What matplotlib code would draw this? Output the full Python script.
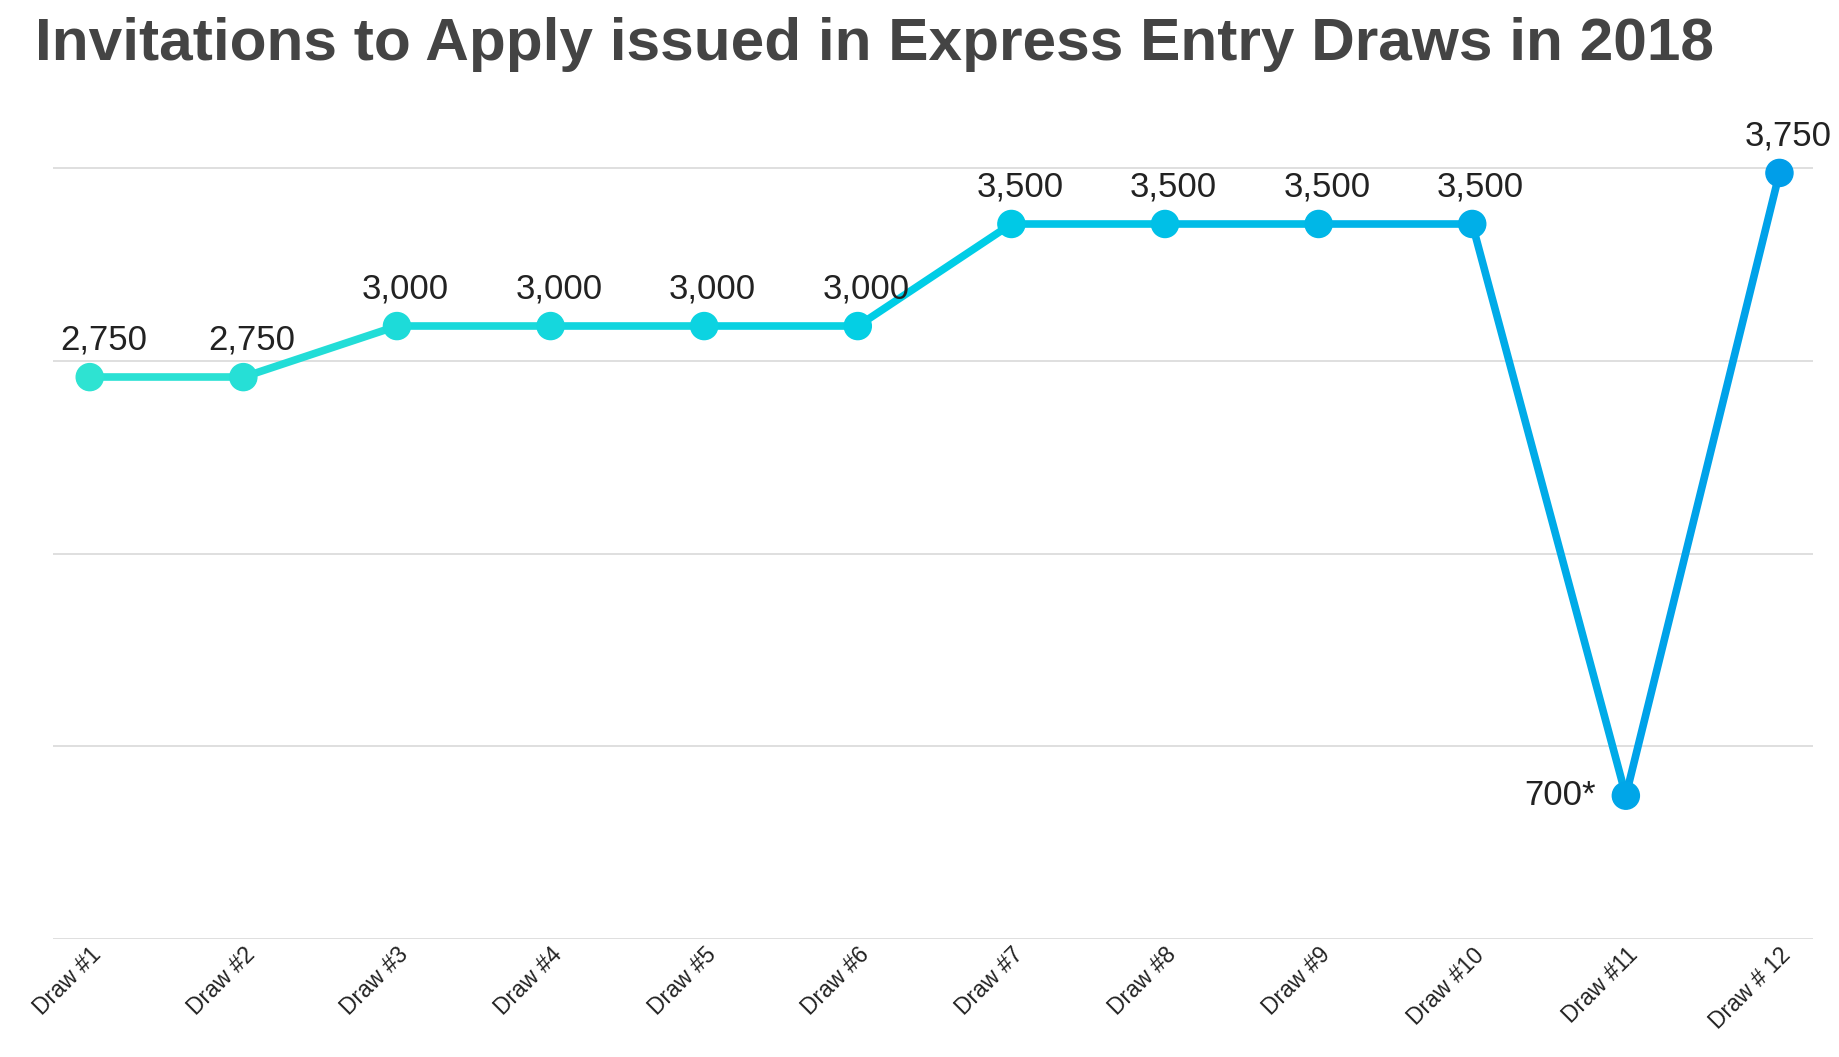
import matplotlib

matplotlib.use("Agg")
import matplotlib.pyplot as plt
import numpy as np
from matplotlib.collections import LineCollection
from matplotlib.colors import LinearSegmentedColormap

DRAWS = ["Draw #1", "Draw #2", "Draw #3", "Draw #4", "Draw #5", "Draw #6",
         "Draw #7", "Draw #8", "Draw #9", "Draw #10", "Draw #11", "Draw # 12"]
INVITES = [2750, 2750, 3000, 3000, 3000, 3000, 3500, 3500, 3500, 3500, 700, 3750]
LABELS = ["2,750", "2,750", "3,000", "3,000", "3,000", "3,000",
          "3,500", "3,500", "3,500", "3,500", "700*", "3,750"]

plt.rcParams["font.family"] = ["Liberation Sans", "DejaVu Sans"]

cmap = LinearSegmentedColormap.from_list("tb", ["#2ee3d2", "#00cde6", "#009ee9"])

fig = plt.figure(figsize=(18.39, 10.57), dpi=100)
ax = fig.add_axes([0.029, 0.112, 0.957, 0.792])

x = np.arange(len(INVITES))
y = np.array(INVITES)
n = len(x)
pts = np.column_stack([x, y]).reshape(-1, 1, 2)
segs = np.concatenate([pts[:-1], pts[1:]], axis=1)
lc = LineCollection(segs, colors=[cmap((i + 0.5) / (n - 1)) for i in range(n - 1)],
                    linewidths=5.5, capstyle="round", zorder=2)
ax.add_collection(lc)
ax.scatter(x, y, s=380, c=[cmap(i / (n - 1)) for i in range(n)], zorder=3)

for i, (xi, yi, lab) in enumerate(zip(x, y, LABELS)):
    if lab == "700*":
        ax.annotate(lab, (xi, yi), xytext=(-22, 0), textcoords="offset points",
                    ha="right", va="center", fontsize=25, color="#222222")
    else:
        ax.annotate(lab, (xi, yi), xytext=(10 if i == 0 else 6, 15),
                    textcoords="offset points", ha="center", va="bottom",
                    fontsize=25, color="#222222")

ax.set_xlim(-0.237, 11.22)
ax.set_ylim(0, 4100)
ax.set_yticks([0, 943, 1886, 2829, 3772])
ax.set_yticklabels([])
ax.tick_params(axis="y", length=0)
ax.tick_params(axis="x", length=0, labelsize=16.5, colors="#222222")
ax.set_xticks(x)
ax.set_xticklabels(DRAWS, rotation=45, ha="right", rotation_mode="anchor")
ax.grid(axis="y", color="#d9d9d9", linewidth=1.2)
ax.set_axisbelow(True)
for s in ax.spines.values():
    s.set_visible(False)

fig.text(0.019, 0.958, "Invitations to Apply issued in Express Entry Draws in 2018",
         fontsize=43.5, fontweight="bold", color="#444444", va="center", ha="left")

fig.savefig("out.png", dpi=100, facecolor="white")
